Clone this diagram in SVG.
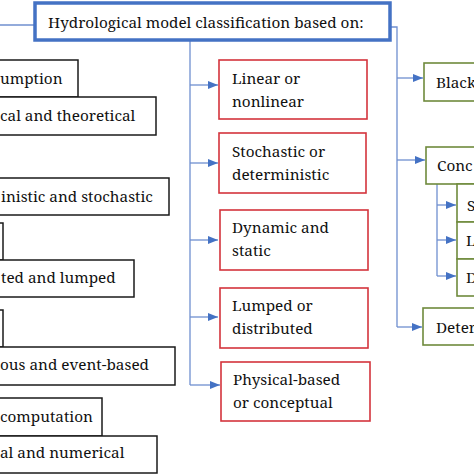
<svg xmlns="http://www.w3.org/2000/svg" width="474" height="474" viewBox="0 0 474 474">
<style>
text{font-family:'Noto Serif','DejaVu Serif',serif;font-size:15.3px;fill:#111}
.blk{fill:#fff;stroke:#1a1a1a;stroke-width:1.5}
.red{fill:#fff;stroke:#d4343c;stroke-width:1.6}
.grn{fill:#fff;stroke:#6f8a3c;stroke-width:1.6}
.ttl{fill:#fff;stroke:#4472c4;stroke-width:3.5}
.ln{fill:none;stroke:#6f8fcf;stroke-width:1.3}
</style>
<defs>
<marker id="ah" markerWidth="10" markerHeight="8" refX="10" refY="4" orient="auto" markerUnits="userSpaceOnUse">
<path d="M0,0 L10,4 L0,8 Z" fill="#4472c4"/>
</marker>
</defs>
<rect width="474" height="474" fill="#fff"/>
<g id="connectors">
<path class="ln" d="M0,25 H35"/>
<path class="ln" d="M190,40 V385"/>
<path class="ln" d="M190,85 H218" marker-end="url(#ah)"/>
<path class="ln" d="M190,163 H218" marker-end="url(#ah)"/>
<path class="ln" d="M190,240 H218" marker-end="url(#ah)"/>
<path class="ln" d="M190,317 H218" marker-end="url(#ah)"/>
<path class="ln" d="M190,385 H220" marker-end="url(#ah)"/>
<path class="ln" d="M390,27 H397 V327"/>
<path class="ln" d="M397,78 H423" marker-end="url(#ah)"/>
<path class="ln" d="M397,160 H425" marker-end="url(#ah)"/>
<path class="ln" d="M397,327 H422" marker-end="url(#ah)"/>
<path class="ln" d="M437,184 V276"/>
<path class="ln" d="M437,205 H456" marker-end="url(#ah)"/>
<path class="ln" d="M437,240 H456" marker-end="url(#ah)"/>
<path class="ln" d="M437,276 H456" marker-end="url(#ah)"/>
</g>
<g id="title"><rect class="ttl" x="35" y="3" width="355" height="37"/><text x="48" y="28" font-size="16">Hydrological model classification based on:</text></g>
<g id="l1"><rect class="blk" x="-10" y="60" width="88" height="37"/><text x="0" y="84">umption</text></g>
<g id="l2"><rect class="blk" x="-10" y="97" width="166" height="38"/><text x="0" y="121">cal and theoretical</text></g>
<g id="l3"><rect class="blk" x="-10" y="178" width="179" height="37"/><text x="1" y="202">inistic and stochastic</text></g>
<g id="l3b"><rect class="blk" x="-10" y="223" width="13" height="37"/></g>
<g id="l4"><rect class="blk" x="-10" y="260" width="144" height="37"/><text x="1" y="283">ted and lumped</text></g>
<g id="l4b"><rect class="blk" x="-10" y="310" width="13" height="37"/></g>
<g id="l5"><rect class="blk" x="-10" y="347" width="185" height="38"/><text x="0" y="370">ous and event-based</text></g>
<g id="l6"><rect class="blk" x="-10" y="398" width="112" height="38"/><text x="0" y="422">computation</text></g>
<g id="l7"><rect class="blk" x="-10" y="436" width="167" height="37"/><text x="0" y="458">al and numerical</text></g>
<g id="m1"><rect class="red" x="219" y="60" width="148" height="59"/><text x="232" y="84">Linear or</text><text x="232" y="107">nonlinear</text></g>
<g id="m2"><rect class="red" x="219" y="133" width="147" height="60"/><text x="232" y="157">Stochastic or</text><text x="232" y="180">deterministic</text></g>
<g id="m3"><rect class="red" x="220" y="210" width="148" height="60"/><text x="232" y="233">Dynamic and</text><text x="232" y="256">static</text></g>
<g id="m4"><rect class="red" x="220" y="288" width="148" height="60"/><text x="232" y="311">Lumped or</text><text x="232" y="334">distributed</text></g>
<g id="m5"><rect class="red" x="221" y="362" width="149" height="59"/><text x="233" y="385">Physical-based</text><text x="233" y="408">or conceptual</text></g>
<g id="r1"><rect class="grn" x="424" y="63" width="60" height="38"/><text x="436" y="88">Black</text></g>
<g id="r2"><rect class="grn" x="426" y="147" width="60" height="37"/><text x="437" y="171">Conc</text></g>
<g id="r2a"><rect class="grn" x="457" y="184" width="30" height="38"/><text x="467" y="211">S</text></g>
<g id="r2b"><rect class="grn" x="457" y="222" width="30" height="37"/><text x="466" y="246">L</text></g>
<g id="r2c"><rect class="grn" x="457" y="259" width="30" height="37"/><text x="466" y="283">D</text></g>
<g id="r3"><rect class="grn" x="423" y="308" width="60" height="37"/><text x="436" y="333">Deter</text></g>
</svg>
